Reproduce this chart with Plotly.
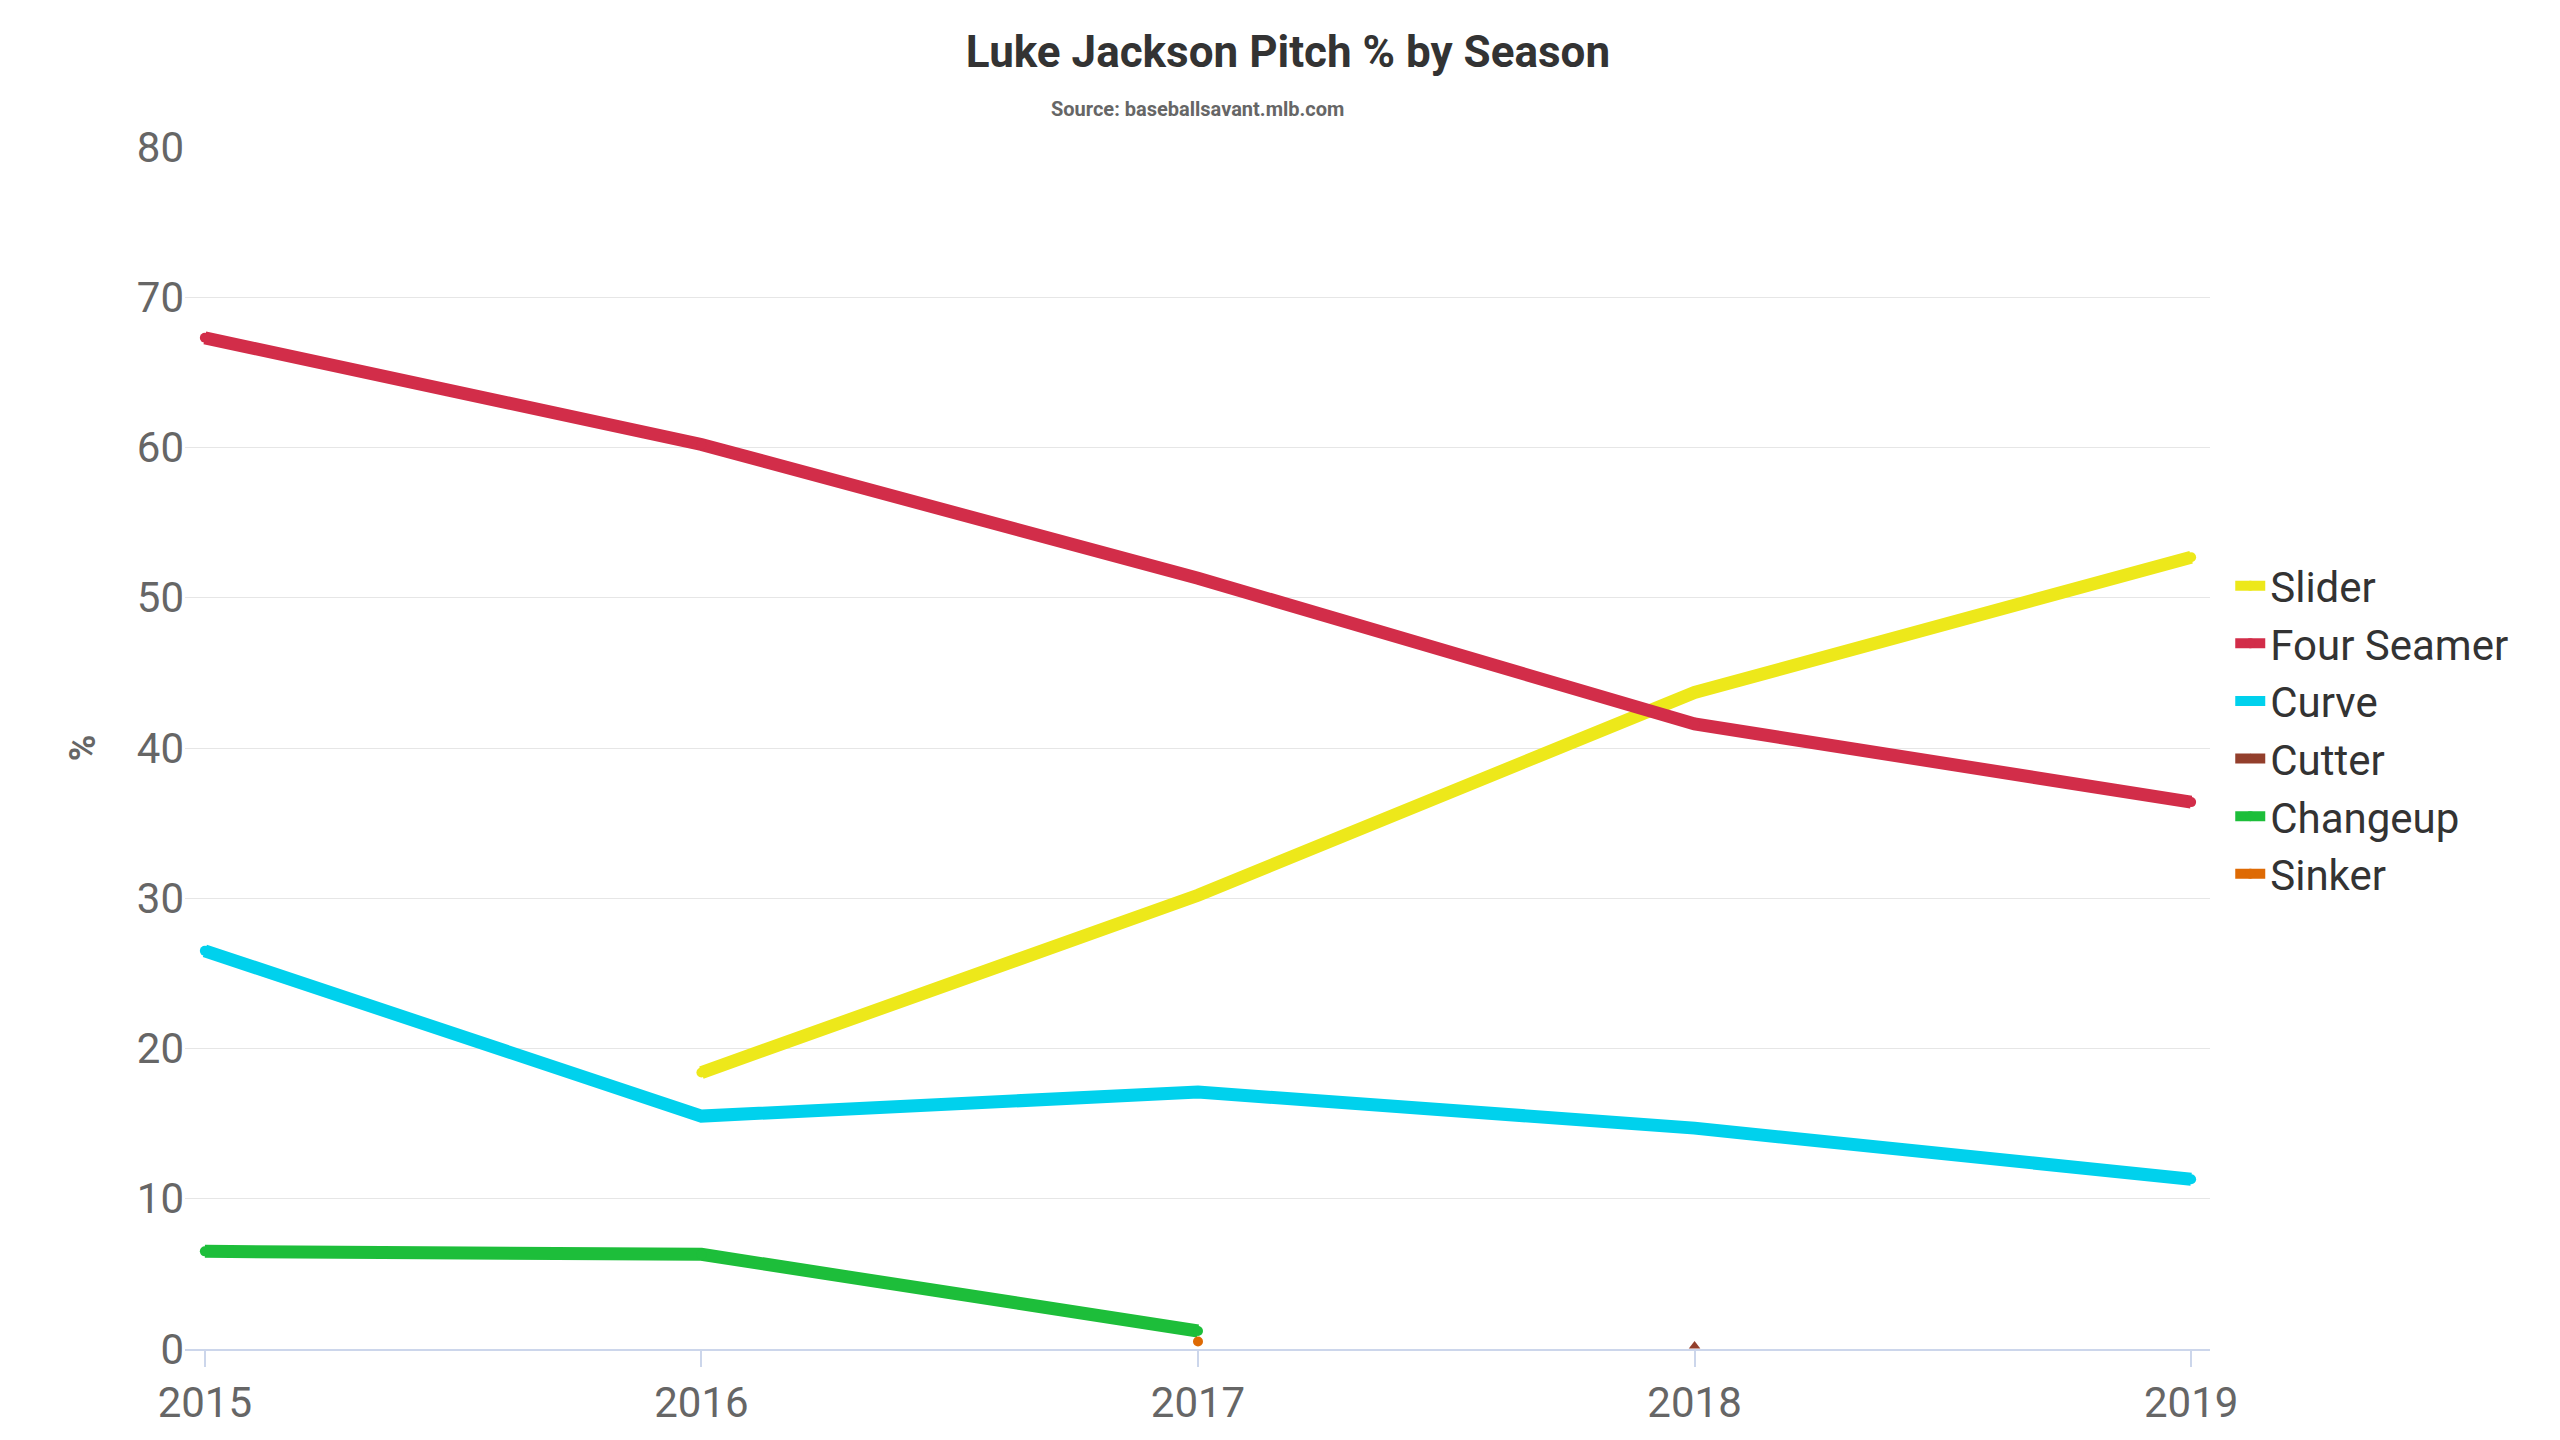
import plotly.graph_objects as go

seasons = [2015, 2016, 2017, 2018, 2019]
slider = [None, 18.4, 30.2, 43.7, 52.7]
four_seamer = [67.3, 60.2, 51.3, 41.6, 36.4]
curve = [26.5, 15.5, 17.1, 14.7, 11.3]
cutter = [None, None, None, 0.2, None]
changeup = [6.5, 6.3, 1.2, None, None]
sinker = [None, None, 0.5, None, None]

series = [
    ("Slider", slider, "#ede81a", "circle"),
    ("Four Seamer", four_seamer, "#d22d49", "circle"),
    ("Curve", curve, "#00d1ed", "circle"),
    ("Cutter", cutter, "#933f2c", "triangle-up"),
    ("Changeup", changeup, "#1dbe3a", "circle"),
    ("Sinker", sinker, "#de6a04", "circle"),
]

fig = go.Figure()
for name, vals, color, sym in series:
    fig.add_trace(go.Scatter(
        x=seasons, y=vals, name=name, mode="lines+markers",
        line=dict(color=color, width=13, shape="linear"),
        marker=dict(color=color, size=10, symbol=sym),
        connectgaps=False,
    ))

fig.update_layout(
    width=2560, height=1440, paper_bgcolor="white", plot_bgcolor="white",
    font=dict(family="Roboto", color="#666666"),
    margin=dict(l=177, r=358, t=139, b=99),
    title=dict(text="<b>Luke Jackson Pitch % by Season</b>", x=0.5, xanchor="center",
               y=1 - 44 / 1440, yanchor="middle", font=dict(size=44, color="#333333")),
    annotations=[dict(text="<b>Source: baseballsavant.mlb.com</b>", xref="paper", yref="paper",
                      x=0.5, y=1 + 38 / 1202, xanchor="center", yanchor="middle",
                      showarrow=False, font=dict(size=20, color="#666666"))],
    xaxis=dict(range=[2014.96, 2019.038], tickvals=seasons, ticktext=[str(s) for s in seasons],
               showgrid=False, showline=True, linecolor="#ccd6eb", linewidth=2,
               ticks="outside", ticklen=16, tickcolor="#ccd6eb", tickwidth=2,
               tickfont=dict(size=42, color="#666666", family="Roboto"), zeroline=False),
    yaxis=dict(range=[0, 80], dtick=10, showgrid=True, gridcolor="#e6e6e6", gridwidth=1,
               zeroline=False, tickfont=dict(size=42, color="#666666", family="Roboto"),
               title=dict(text="<b>%</b>", font=dict(size=36, color="#666666"), standoff=30)),
    legend=dict(x=1.01, xanchor="left", y=0.515, yanchor="middle",
                font=dict(size=42, color="#333333", family="Roboto"), tracegroupgap=0,
                itemwidth=30),
    showlegend=True,
)
fig.write_html("out.html")
